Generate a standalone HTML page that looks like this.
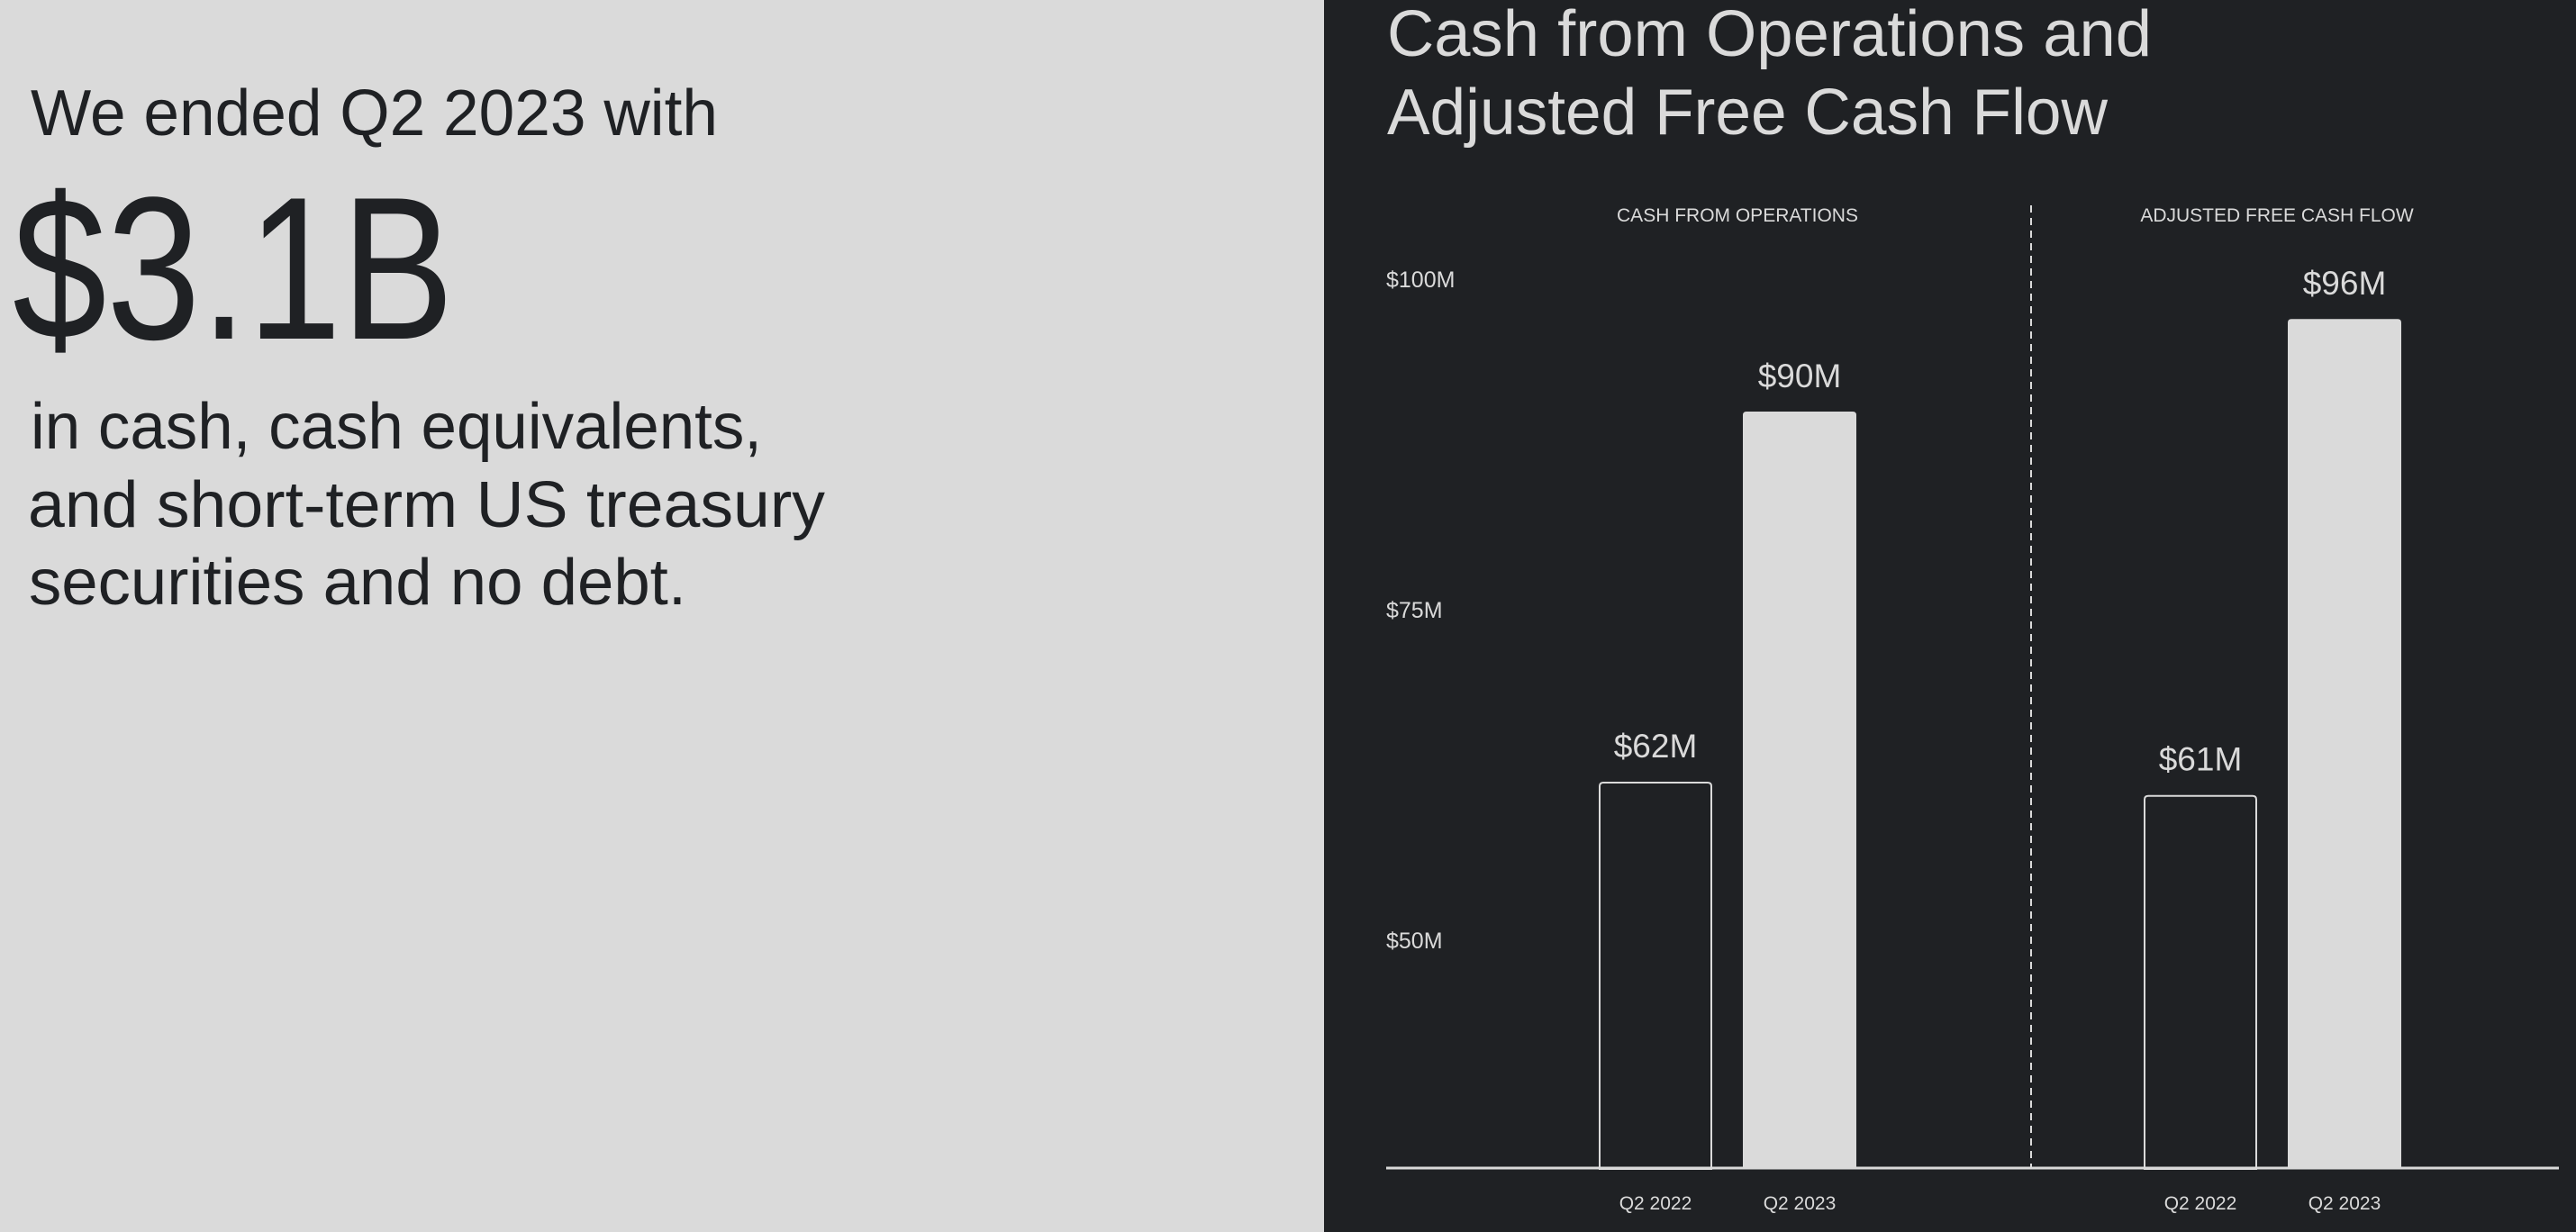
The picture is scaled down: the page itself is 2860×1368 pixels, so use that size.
<!DOCTYPE html>
<html><head><meta charset="utf-8">
<style>
html,body{margin:0;padding:0;background:#dadada;}
svg{display:block;font-family:"Liberation Sans",sans-serif;}
</style></head>
<body>
<svg id="page" width="2860" height="1368" viewBox="0 0 2860 1368" xmlns="http://www.w3.org/2000/svg">
<rect x="0" y="0" width="1470" height="1368" fill="#dadada"/>
<g fill="#1f2124">
<text x="34" y="150" font-size="72" textLength="763" lengthAdjust="spacingAndGlyphs">We ended Q2 2023 with</text>
<text x="14" y="376" font-size="226" textLength="490" lengthAdjust="spacingAndGlyphs">$3.1B</text>
<text x="34" y="498" font-size="72" textLength="812" lengthAdjust="spacingAndGlyphs">in cash, cash equivalents,</text>
<text x="31" y="585" font-size="72" textLength="885" lengthAdjust="spacingAndGlyphs">and short-term US treasury</text>
<text x="32" y="671" font-size="72" textLength="730" lengthAdjust="spacingAndGlyphs">securities and no debt.</text>
</g>
<rect x="1470" y="0" width="1390" height="1368" fill="#1f2124"/>
<g fill="#dadada">
<text x="1540" y="62" font-size="72" textLength="849" lengthAdjust="spacingAndGlyphs">Cash from Operations and</text>
<text x="1540" y="149" font-size="72" textLength="800" lengthAdjust="spacingAndGlyphs">Adjusted Free Cash Flow</text>
</g>
<g id="chart"></g>
</svg>
<script>
const panels = ["CASH FROM OPERATIONS", "ADJUSTED FREE CASH FLOW"];
const categories = ["Q2 2022", "Q2 2023"];
const cfoValues = [62, 90];
const afcfValues = [61, 97];
const cfoLabels = ["$62M", "$90M"];
const afcfLabels = ["$61M", "$96M"];
const tickValues = [100, 75, 50];
const tickLabels = ["$100M", "$75M", "$50M"];

const NS = "http://www.w3.org/2000/svg";
const chart = document.getElementById("chart");
const LIGHT = "#dadada", DARK = "#1f2124";
const baseY = 1297;
function yScale(v){ return 457 - (v - 90) * 14.68; }
const panelCenters = [1929, 2528];
const barCenters = [[1838, 1998], [2443, 2603]];
const barW = 126;
function el(tag, attrs, parent){
  const e = document.createElementNS(NS, tag);
  for (const k in attrs) e.setAttribute(k, attrs[k]);
  (parent || chart).appendChild(e);
  return e;
}
function txt(s, attrs){ const t = el("text", attrs); t.textContent = s; return t; }

tickValues.forEach((v, i) => {
  const t = txt(tickLabels[i], {x: 1539, y: yScale(v) + 9, "font-size": 25, fill: LIGHT});
  
  
});

panels.forEach((p, i) => {
  const t = txt(p, {x: panelCenters[i], y: 246, "font-size": 21, fill: LIGHT, "text-anchor": "middle"});
  
  
});

const divider = el("line", {x1: 2255, y1: 228, x2: 2255, y2: baseY, stroke: LIGHT, "stroke-width": 2, "stroke-dasharray": "8 6"});



function roundTopPath(x, y, w, h, r){
  return `M${x},${y+h} L${x},${y+r} Q${x},${y} ${x+r},${y} L${x+w-r},${y} Q${x+w},${y} ${x+w},${y+r} L${x+w},${y+h} Z`;
}

[cfoValues, afcfValues].forEach((vals, gi) => {
  const labels = gi === 0 ? cfoLabels : afcfLabels;
  vals.forEach((v, ci) => {
    const cx = barCenters[gi][ci];
    const top = yScale(v);
    const x = cx - barW / 2;
    const filled = ci === 1;
    const bar = el("path", {d: roundTopPath(x + (filled ? 0 : 1), top + (filled ? 0 : 1), barW - (filled ? 0 : 2), baseY - top, 4),
      fill: filled ? LIGHT : DARK, stroke: filled ? "none" : LIGHT, "stroke-width": 2});
    
    
    const lab = txt(labels[ci], {x: cx, y: top - 27, "font-size": 37, fill: LIGHT, "text-anchor": "middle"});
    
    
    const xl = txt(categories[ci], {x: cx, y: 1343, "font-size": 21, fill: LIGHT, "text-anchor": "middle"});
    
    
  });
});

const axis = el("line", {x1: 1539, y1: baseY, x2: 2841, y2: baseY, stroke: LIGHT, "stroke-width": 3});


</script>
</body></html>
